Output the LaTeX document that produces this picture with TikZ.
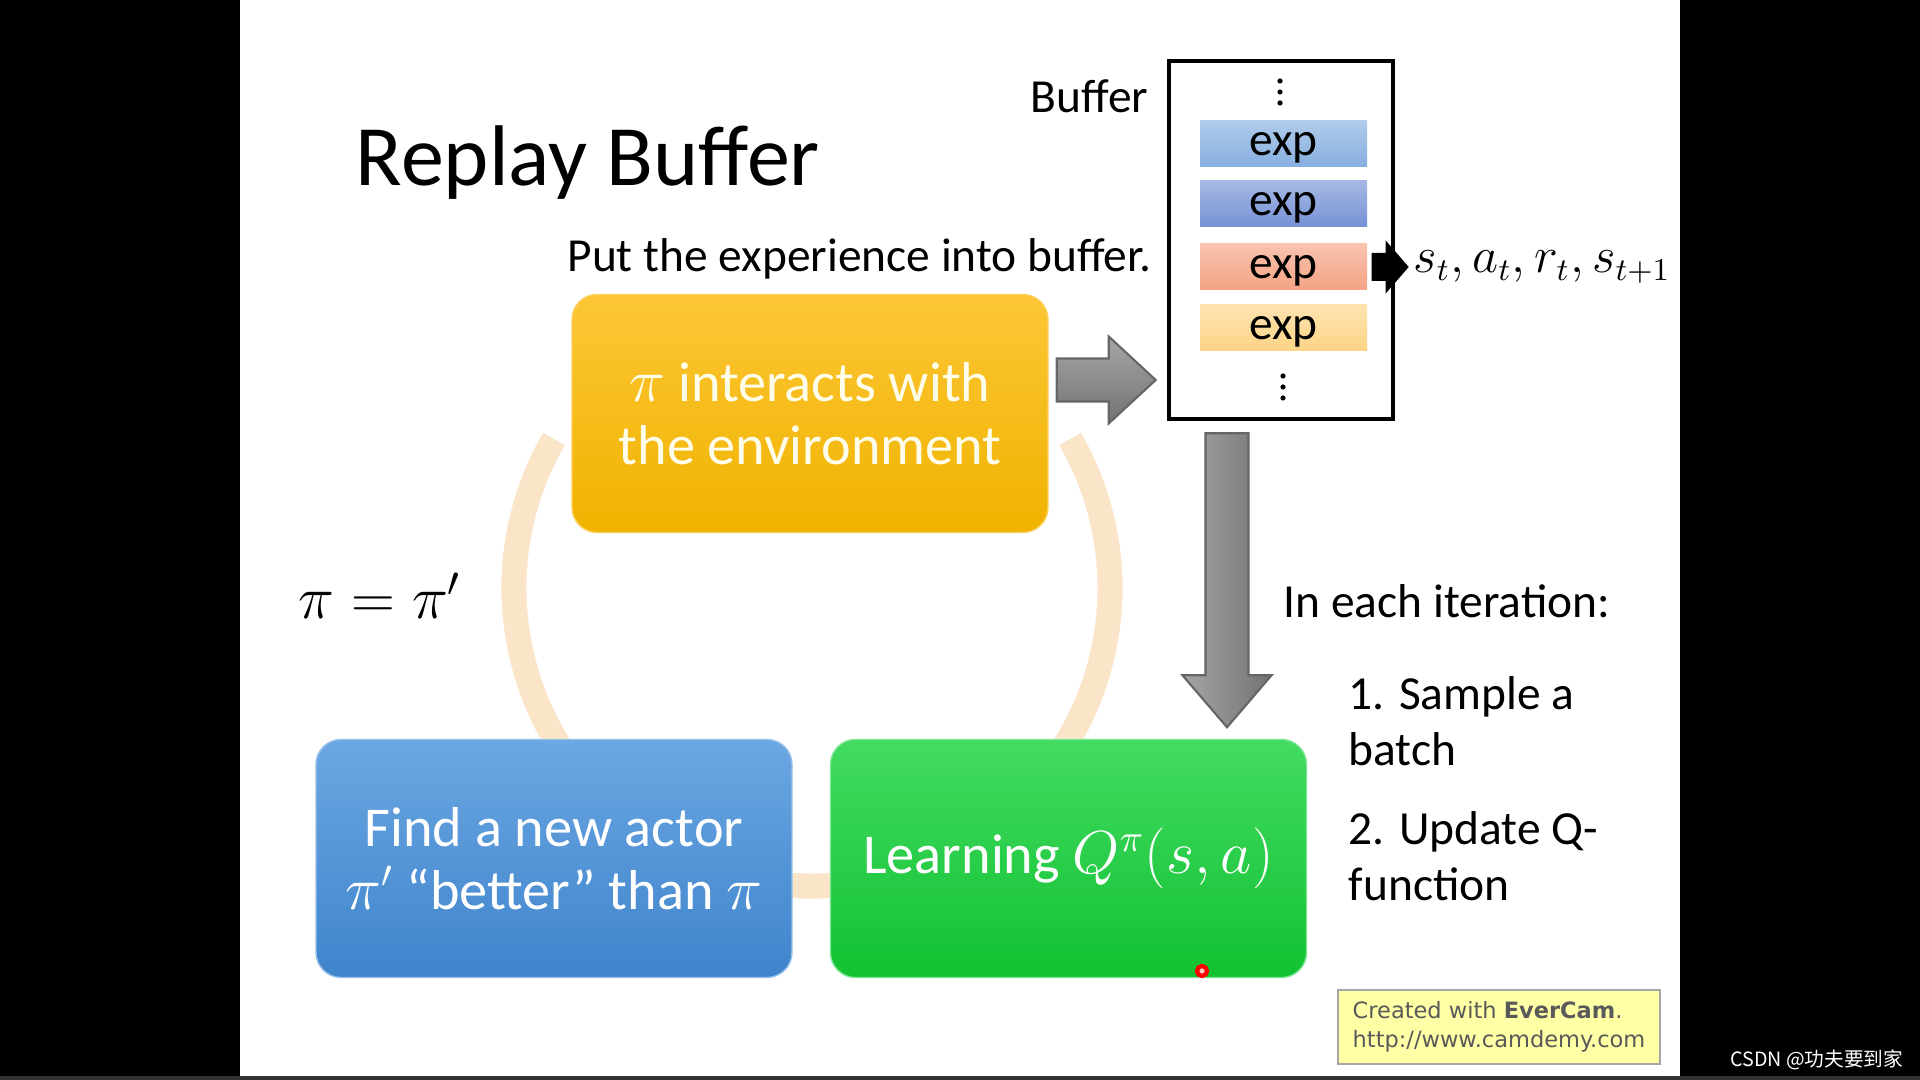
\documentclass[tikz,border=0pt]{standalone}
\usepackage{amsmath,amssymb}
\usepackage{fontspec}
\setmainfont{Carlito}
\newfontfamily\camfont{DejaVu Sans}
\newfontfamily\cjkfont{Noto Sans CJK SC}
\usepackage{tikz}
\usetikzlibrary{shapes,arrows,calc}
\definecolor{ringpeach}{HTML}{FBE5C8}
\definecolor{boxyellowtop}{HTML}{FDC636}
\definecolor{boxyellowbot}{HTML}{F0B300}
\definecolor{boxbluetop}{HTML}{6BA7E2}
\definecolor{boxbluebot}{HTML}{3F84CC}
\definecolor{boxgreentop}{HTML}{43DB62}
\definecolor{boxgreenbot}{HTML}{12C131}
\definecolor{expblue}{HTML}{86AFE0}
\definecolor{expindigo}{HTML}{7692D6}
\definecolor{expsalmon}{HTML}{F5A384}
\definecolor{expyellow}{HTML}{FDD486}
\definecolor{camyellow}{HTML}{FFFFA6}

\begin{document}
\begin{tikzpicture}[
    cyclebox/.style={rounded corners=0.25cm, minimum width=4.76cm, minimum height=2.38cm,
        align=center, text=white, font=\fontsize{16}{18}\selectfont},
    expbox/.style={minimum width=1.67cm, minimum height=0.46cm, inner sep=0pt,
        text height=6.3pt, text depth=0pt, font=\fontsize{13.5}{16}\selectfont},
    lbl/.style={inner sep=0pt, font=\fontsize{13.5}{16}\selectfont},
    bigarrow/.style={draw=black!60, line width=0.6pt}
]
    % Page and side bars
    \useasboundingbox (0,0) rectangle (19.2,10.8);
    \fill[white] (0,0) rectangle (19.2,10.8);
    \fill[black] (0,0) rectangle (2.4,10.8);
    \fill[black] (16.8,0) rectangle (19.2,10.8);
    \fill[black!80] (0,0) rectangle (19.2,0.035);

    % Title
    \node[anchor=base west, inner sep=0pt, font=\fontsize{24.5}{28}\selectfont] (title) at (3.55,8.94) {Replay Buffer};

    % Cycle ring behind the boxes
    \coordinate (ringc) at (8.12,4.92);
    \draw[ringpeach, line width=0.25cm] ($(ringc)+(150:2.98)$) arc (150:390:2.98);

    % Cycle boxes
    \node[cyclebox, draw=boxyellowtop!80!white, top color=boxyellowtop, bottom color=boxyellowbot,
        text=white!92!yellow] (interact) at (8.10,6.665) {$\pi$ interacts with\\the environment};
    \node[cyclebox, draw=boxbluetop!70!white, top color=boxbluetop, bottom color=boxbluebot]
        (newactor) at (5.54,2.215) {Find a new actor\\$\pi'$ ``better'' than $\pi$};
    \node[cyclebox, draw=boxgreentop!70!white, top color=boxgreentop, bottom color=boxgreenbot]
        (learnq) at (10.685,2.215) {Learning $Q^{\pi}(s,a)$};

    % Buffer
    \node[draw, line width=1.3pt, minimum width=2.24cm, minimum height=3.58cm] (buffer) at (12.81,8.40) {};
    \node[lbl, anchor=base east] (buflabel) at (11.49,9.67) {Buffer};
    \foreach \y/\col [count=\i] in {9.36/expblue, 8.76/expindigo, 8.13/expsalmon, 7.52/expyellow}
        \node[expbox, top color=\col!65!white, bottom color=\col] (exp\i) at (12.835,\y) {exp};
    \foreach \d in {0,1,2} {
        \fill (12.80,9.99-0.11*\d) circle (0.026);
        \fill (12.83,7.04-0.11*\d) circle (0.026);
    }

    % Sample out of the buffer
    \coordinate (outstart) at ($(exp3.east)+(0.04,0)$);
    \fill[black] (outstart) ++(0,0.14) -- ++(0.14,0) -- ++(0,0.125) -- ++(0.23,-0.265)
        -- ++(-0.23,-0.265) -- ++(0,0.125) -- ++(-0.14,0) -- cycle;
    \node[anchor=west, inner sep=0pt, font=\fontsize{13.5}{18}\selectfont] (tuple) at ($(outstart)+(0.41,0)$) {$s_t,a_t,r_t,s_{t+1}$};

    \node[lbl, anchor=base east] (putlabel) at (11.52,8.08) {Put the experience into buffer.};

    % Block arrows
    \coordinate (putstart) at ($(interact.east)+(0.08,0.335)$);
    \draw[bigarrow, top color=black!35, bottom color=black!55] (putstart) ++(0,0.215) -- ++(0.52,0) -- ++(0,0.22)
        -- ++(0.47,-0.435) -- ++(-0.47,-0.435) -- ++(0,0.22) -- ++(-0.52,0) -- cycle;
    \coordinate (samplestart) at ($(buffer.south)+(-0.54,-0.12)$);
    \draw[bigarrow, left color=black!35, right color=black!55] (samplestart) ++(-0.215,0) -- ++(0,-2.42) -- ++(-0.23,0)
        -- ++(0.445,-0.52) -- ++(0.445,0.52) -- ++(-0.23,0) -- ++(0,2.42) -- cycle;

    % Labels
    \node[inner sep=0pt, font=\fontsize{17}{20}\selectfont, anchor=west] (update) at (2.98,4.84) {$\pi = \pi'$};
    \node[lbl, anchor=base west] (iterlabel) at (12.83,4.62) {In each iteration:};
    \node[lbl, anchor=west, align=left] (stepone) at (13.48,3.59) {1. Sample a\\batch};
    \node[lbl, anchor=west, align=left] (steptwo) at (13.48,2.24) {2. Update Q-\\function};

    % Recorder stamp and watermark
    \node[draw=gray!70, fill=camyellow, minimum width=3.22cm, minimum height=0.66cm, align=left,
        text=black!65, font=\camfont\fontsize{6.4}{8.2}\selectfont] (stamp) at (14.99,0.53)
        {Created with \textbf{EverCam}.\\http://www.camdemy.com};
    \node[text=white, inner sep=0pt, font=\cjkfont\fontsize{5.6}{7}\selectfont, anchor=east] (csdn) at (19.04,0.20) {CSDN @功夫要到家};

    % Cursor
    \filldraw[red, fill=red!20, line width=1.2pt] (12.02,1.09) circle (0.05);
\end{tikzpicture}
\end{document}
